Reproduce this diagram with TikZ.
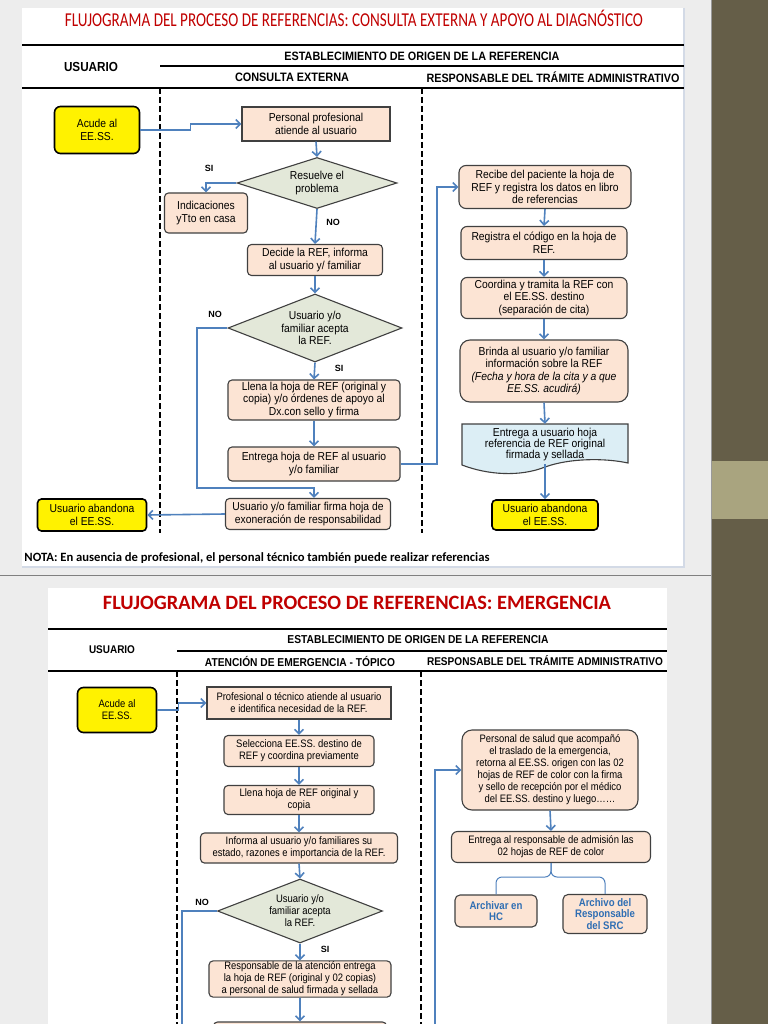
\documentclass[tikz,border=0pt]{standalone}
\usepackage{fontspec}
\setmainfont{Liberation Sans}
\newfontfamily\carl{Carlito}
\newfontfamily\narA[FakeStretch=0.9]{Liberation Sans}
\newfontfamily\narB[FakeStretch=0.875]{Liberation Sans}
\usetikzlibrary{shapes.geometric,arrows.meta}
\definecolor{peach}{HTML}{FCE4D4}
\definecolor{sage}{HTML}{E3E8D9}
\definecolor{flow}{HTML}{4F81BD}
\definecolor{titred}{HTML}{C00000}
\definecolor{docblue}{HTML}{DCEEF5}
\definecolor{olive}{HTML}{655E48}
\definecolor{oliveband}{HTML}{A9A47F}
\definecolor{edge}{HTML}{404040}
\definecolor{bluetxt}{HTML}{2F6EB3}
\definecolor{bggray}{HTML}{EDEDED}
\definecolor{panelrim}{HTML}{D3DAE6}
\newcommand\txtA{\narA\fontsize{11.5}{12.5}\selectfont}
\newcommand\txtB{\narB\fontsize{10.8}{12}\selectfont}
\newcommand\hdrtxt[2]{\scalebox{1}[1.12]{\resizebox{#1}{!}{\bfseries #2}}}
\begin{document}
\begin{tikzpicture}[x=1pt,y=-1pt,
  box/.style={draw=edge, line width=1.1pt, fill=peach, rounded corners=4pt, align=center, inner sep=1pt},
  sqbox/.style={box, rounded corners=0pt},
  yel/.style={draw=black, line width=1.6pt, fill=yellow, rounded corners=6pt, align=center, inner sep=1pt},
  dec/.style={diamond, draw=edge, line width=1.1pt, fill=sage, align=center, inner sep=0pt},
  arr/.style={draw=flow, line width=1.6pt, -{Straight Barb[length=4.5pt,width=9pt]}},
  plainflow/.style={draw=flow, line width=1.6pt},
  lbl/.style={font=\bfseries\fontsize{9}{10}\selectfont, inner sep=0pt},
  hdr/.style={inner sep=0pt},
  lane/.style={line width=1.8pt, dash pattern=on 6pt off 3pt},
  rule/.style={line width=2.4pt}
]
\useasboundingbox (0,0) rectangle (768,1024);
\clip (0,0) rectangle (768,1024);
% background
\fill[bggray] (0,0) rectangle (711,1024);
\fill[olive] (711,0) rectangle (768,1024);
\fill[oliveband] (711,461) rectangle (768,519);
\draw[gray!80!white, line width=0.8pt] (711,0) -- (711,1024);
\draw[gray, line width=1pt] (0,575) -- (711,575);
\fill[white] (22,8) rectangle (684,567);
\draw[panelrim, line width=1.5pt] (684,8) -- (684,567) -- (22,567);
\fill[white] (48,588) rectangle (667,1030);

% ===== Slide 1 header =====
\node[hdr, text=titred] (t1) at (354,18) {\scalebox{1}[1.3]{\resizebox{578pt}{!}{\carl FLUJOGRAMA DEL PROCESO DE REFERENCIAS: CONSULTA EXTERNA Y APOYO AL DIAGNÓSTICO}}};
\draw[rule] (22,45) -- (684,45);
\draw[line width=2pt] (160,66) -- (684,66);
\draw[rule] (22,88) -- (684,88);
\node[hdr] (h1a) at (422,56) {\hdrtxt{275pt}{ESTABLECIMIENTO DE ORIGEN DE LA REFERENCIA}};
\node[hdr] (h1b) at (91,67) {\hdrtxt{54pt}{USUARIO}};
\node[hdr] (h1c) at (292,77) {\hdrtxt{114pt}{CONSULTA EXTERNA}};
\node[hdr] (h1d) at (553,77) {\hdrtxt{253pt}{RESPONSABLE DEL TRÁMITE ADMINISTRATIVO}};
\draw[lane] (160,88) -- (160,533);
\draw[lane] (422,88) -- (422,533);
\node[hdr] (nota) at (257,558) {\resizebox{465pt}{!}{\carl\bfseries NOTA: En ausencia de profesional, el personal técnico también puede realizar referencias}};

% ===== Slide 1 nodes =====
\begin{scope}[font=\txtA]
\node[yel, minimum width=85pt, minimum height=47pt] (A1) at (97,130) {Acude al\\EE.SS.};
\node[sqbox, minimum width=148pt, minimum height=34pt] (P1) at (316,124) {Personal profesional\\atiende al usuario};
\node[dec, minimum width=160pt, minimum height=51pt, aspect=3.1] (D1) at (317,183) {Resuelve el\\problema};
\node[box, minimum width=83pt, minimum height=40pt] (I1) at (206,213) {Indicaciones\\yTto en casa};
\node[box, minimum width=135pt, minimum height=31pt] (R1) at (315,260) {Decide la REF, informa\\al usuario y/ familiar};
\node[dec, minimum width=174pt, minimum height=68pt, aspect=2.56] (D2) at (315,328) {Usuario y/o\\familiar acepta\\la REF.};
\node[box, minimum width=172pt, minimum height=40pt] (L1) at (314,400) {Llena la hoja de REF (original y\\copia) y/o órdenes de apoyo al\\Dx.con sello y firma};
\node[box, minimum width=172pt, minimum height=34pt] (E1) at (314,464) {Entrega hoja de REF al usuario\\y/o familiar};
\node[box, minimum width=165pt, minimum height=31pt] (U1) at (308,514) {Usuario y/o familiar firma hoja de\\exoneración de responsabilidad};
\node[yel, rounded corners=4pt, minimum width=109pt, minimum height=32pt] (AB1) at (92,515) {Usuario abandona\\el EE.SS.};

\node[box, rounded corners=7pt, minimum width=172pt, minimum height=43pt] (RC1) at (545,187) {Recibe del paciente la hoja de\\REF y registra los datos en libro\\de referencias};
\node[box, rounded corners=6pt, minimum width=166pt, minimum height=33pt] (RG1) at (544,243) {Registra el código en la hoja de\\REF.};
\node[box, rounded corners=6pt, minimum width=166pt, minimum height=41pt] (CO1) at (544,298) {Coordina y tramita la REF con\\el EE.SS. destino\\(separación de cita)};
\node[box, rounded corners=10pt, minimum width=168pt, minimum height=62pt] (BR1) at (544,371) {Brinda al usuario y/o familiar\\información sobre la REF\\\textit{(Fecha y hora de la cita y a que}\\\textit{EE.SS. acudirá)}};
\fill[docblue, draw=edge, line width=1.1pt] (462,424) -- (628,424) -- (628,463) .. controls (605,458) and (570,458) .. (545,467) .. controls (520,477) and (488,475) .. (462,465) -- cycle;
\node[align=center, inner sep=0pt, minimum width=166pt, minimum height=42pt] (DOC1) at (545,445) {\raisebox{4pt}{\begin{tabular}{@{}c@{}}Entrega a usuario hoja\\[-1.5pt]referencia de REF original\\[-1.5pt]firmada y sellada\end{tabular}}};
\node[yel, rounded corners=4pt, minimum width=106pt, minimum height=30pt] (AB2) at (545,515) {Usuario abandona\\el EE.SS.};
\end{scope}

% ===== Slide 1 connectors =====
\draw[arr] (A1.east) -- ++(50,0) |- (P1.west);
\draw[arr] (P1.south) -- (D1.north);
\draw[arr] (D1.west) -| (I1.north);
\node[lbl] (si1) at (209,168) {SI};
\draw[arr] (D1.south) -- (R1.north);
\node[lbl] (no1) at (333,222) {NO};
\draw[arr] (R1.south) -- (D2.north);
\draw[arr] (D2.west) -- (197,328) -- (197,488) -| ([xshift=6pt]U1.north);
\node[lbl] (no2) at (215,314) {NO};
\draw[arr] (D2.south) -- (L1.north);
\node[lbl] (si2) at (339,368) {SI};
\draw[arr] (L1.south) -- (E1.north);
\draw[arr] (E1.east) -- (437,464) |- (RC1.west);
\draw[arr] (U1.west) -- (AB1.east);
\draw[arr] (RC1.south) -- (RG1.north);
\draw[arr] (RG1.south) -- (CO1.north);
\draw[arr] (CO1.south) -- (BR1.north);
\draw[arr] (BR1.south) -- (DOC1.north);
\draw[arr] ([yshift=2pt]DOC1.south) -- (AB2.north);

% ===== Slide 2 header =====
\node[hdr, text=titred] (t2) at (357,603) {\resizebox{508pt}{!}{\carl\bfseries FLUJOGRAMA DEL PROCESO DE REFERENCIAS: EMERGENCIA}};
\draw[rule] (48,629) -- (667,629);
\draw[line width=2pt] (177,651) -- (667,651);
\draw[rule] (48,671) -- (667,671);
\node[hdr] (h2a) at (418,640) {\hdrtxt{261pt}{ESTABLECIMIENTO DE ORIGEN DE LA REFERENCIA}};
\node[hdr] (h2b) at (112,650) {\hdrtxt{46pt}{USUARIO}};
\node[hdr] (h2c) at (300,661) {\hdrtxt{190pt}{ATENCIÓN DE EMERGENCIA - TÓPICO}};
\node[hdr] (h2d) at (545,661) {\hdrtxt{236pt}{RESPONSABLE DEL TRÁMITE ADMINISTRATIVO}};
\draw[lane] (177,671) -- (177,1030);
\draw[lane] (421,671) -- (421,1030);

% ===== Slide 2 nodes =====
\begin{scope}[font=\txtB]
\node[yel, minimum width=79pt, minimum height=45pt] (A2) at (117,710) {Acude al\\EE.SS.};
\node[sqbox, minimum width=184pt, minimum height=32pt] (PR2) at (299,703) {Profesional o técnico atiende al usuario\\e identifica necesidad de la REF.};
\node[box, minimum width=150pt, minimum height=31pt] (SE2) at (299,751) {Selecciona EE.SS. destino de\\REF y coordina previamente};
\node[box, minimum width=150pt, minimum height=29pt] (LL2) at (299,800) {Llena hoja de REF original y\\copia};
\node[box, minimum width=197pt, minimum height=30pt] (IN2) at (299,848) {Informa al usuario y/o familiares su\\estado, razones e importancia de la REF.};
\node[dec, minimum width=165pt, minimum height=64pt, aspect=2.58] (D3) at (300,911) {Usuario y/o\\familiar acepta\\la REF.};
\node[box, minimum width=182pt, minimum height=36pt] (RS2) at (300,979) {Responsable de la atención entrega\\la hoja de REF (original y 02 copias)\\a personal de salud firmada y sellada};
\node[box, minimum width=173pt, minimum height=36pt] (NX2) at (300,1040) {};

\node[box, rounded corners=10pt, minimum width=176pt, minimum height=80pt] (PS2) at (550,770) {Personal de salud que acompañó\\el traslado de la emergencia,\\retorna al EE.SS. origen con las 02\\hojas de REF de color con la firma\\y sello de recepción por el médico\\del EE.SS. destino y luego……};
\node[box, rounded corners=6pt, minimum width=199pt, minimum height=31pt] (EN2) at (551,847) {Entrega al responsable de admisión las\\02 hojas de REF de color};
\node[box, rounded corners=5pt, minimum width=82pt, minimum height=32pt, font=\bfseries\narB\fontsize{11}{11.5}\selectfont, text=bluetxt] (AR2) at (496,911) {Archivar en\\HC};
\node[box, rounded corners=5pt, minimum width=84pt, minimum height=39pt, font=\bfseries\narB\fontsize{11}{11.5}\selectfont, text=bluetxt] (AR3) at (605,914) {Archivo del\\Responsable\\del SRC};
\end{scope}
\coordinate (d3end) at (182,1030);
\coordinate (v2bot) at (435,1030);

% ===== Slide 2 connectors =====
\draw[arr] (A2.east) -- ++(21,0) |- (PR2.west);
\draw[arr] (PR2.south) -- (SE2.north);
\draw[arr] (SE2.south) -- (LL2.north);
\draw[arr] (LL2.south) -- (IN2.north);
\draw[arr] (IN2.south) -- (D3.north);
\draw[plainflow] (D3.west) -| (d3end);
\node[lbl] (no3) at (202,902) {NO};
\draw[arr] (D3.south) -- (RS2.north);
\node[lbl] (si3) at (325,949) {SI};
\draw[arr] (RS2.south) -- (NX2.north);
\draw[arr] (v2bot) |- (PS2.west);
\draw[arr] (PS2.south) -- (EN2.north);
\draw[flow, line width=1pt, rounded corners=6pt] (AR2.north) |- (551,877) -- (EN2.south);
\draw[flow, line width=1pt, rounded corners=6pt] (AR3.north) |- (551,877) -- (EN2.south);
\end{tikzpicture}
\end{document}
